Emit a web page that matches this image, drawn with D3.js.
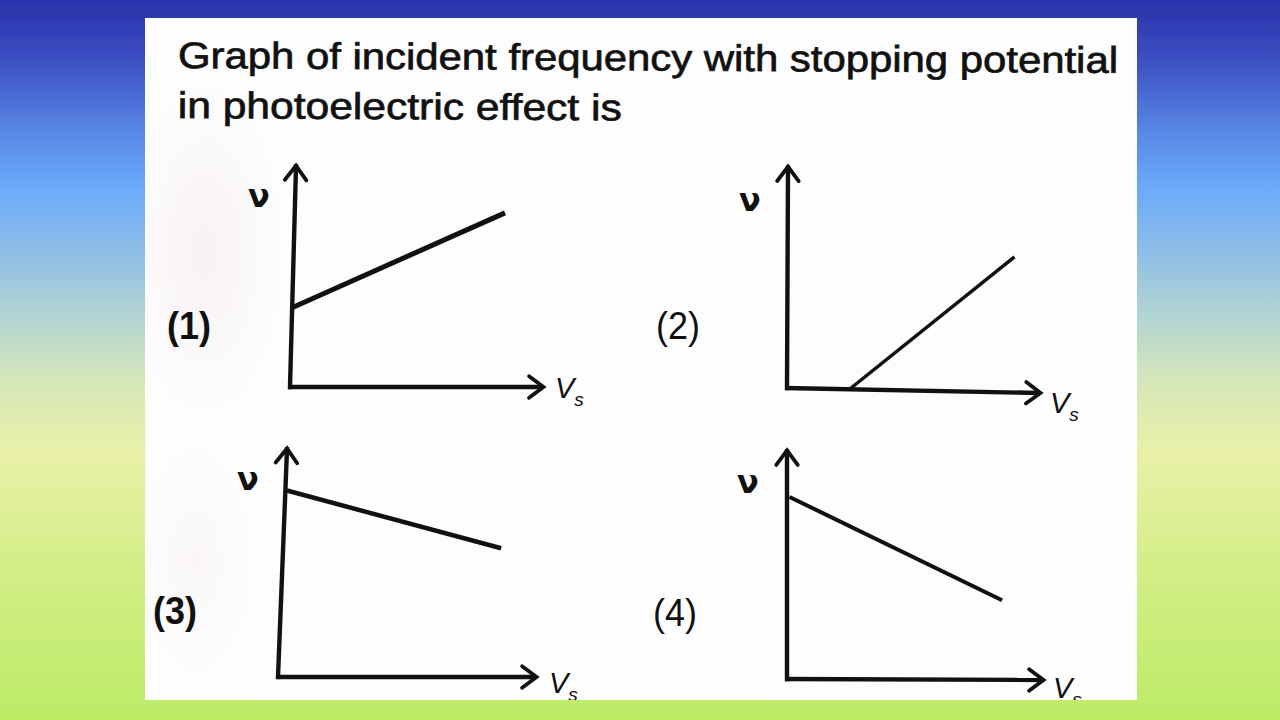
<!DOCTYPE html>
<html>
<head>
<meta charset="utf-8">
<script src="https://cdn.jsdelivr.net/npm/d3@7"></script>
<style>
html,body{margin:0;padding:0;width:1280px;height:720px;overflow:hidden;}
svg{display:block;}
</style>
</head>
<body>
<svg id="chart" width="1280" height="720"></svg>
<script>
// ---- data ----
const titleLines = ["Graph of incident frequency with stopping potential", "in photoelectric effect is"];
const optionLabels = ["(1)", "(2)", "(3)", "(4)"];
const yAxisLabel = "ν";
const xAxisLabel = "V";
const xAxisSub = "s";
// line endpoints per option, in axis units (0..10)
const lineStartX = [0.1, 2.5, 0.35, 0.1];
const lineStartY = [3.7, 0.0, 8.4, 8.2];
const lineEndX   = [8.6, 9.1, 8.75, 8.5];
const lineEndY   = [8.1, 6.1, 5.8, 3.55];

// ---- layout (positions only) ----
const panels = [
  {ox: 290, oy: 387, w: 250, h: 215, yTilt: 6, xTilt: 0, lab: [189, 339], labW: 700, nu: [259, 207], vs: [555, 398], sw: 5},
  {ox: 787, oy: 388, w: 250, h: 215, yTilt: 1, xTilt: 5, lab: [678, 339], labW: 400, nu: [750, 211], vs: [1050, 413], sw: 3.5},
  {ox: 278, oy: 677, w: 255, h: 222, yTilt: 9, xTilt: 0, lab: [175, 624], labW: 700, nu: [248, 490], vs: [549, 693], sw: 4.5},
  {ox: 787, oy: 679, w: 253, h: 222, yTilt: 0, xTilt: 1, lab: [675, 626], labW: 400, nu: [748, 493], vs: [1053, 698], sw: 4}
];

const svg = d3.select("#chart");
const defs = svg.append("defs");

const bg = defs.append("linearGradient").attr("id", "bg").attr("x1", 0).attr("y1", 0).attr("x2", 0).attr("y2", 1);
[[0, "#2a32aa"], [0.08, "#3b4ec2"], [0.18, "#5786e4"], [0.26, "#6aaaf9"], [0.35, "#8ebde6"], [0.44, "#b2d5d2"], [0.53, "#d6e6b8"], [0.63, "#e9f1a8"], [0.78, "#d4ee88"], [1, "#bcec66"]]
  .forEach(s => bg.append("stop").attr("offset", s[0]).attr("stop-color", s[1]));

const smudge = defs.append("radialGradient").attr("id", "smudge").attr("cx", 0.5).attr("cy", 0.5).attr("r", 0.5);
smudge.append("stop").attr("offset", 0).attr("stop-color", "#f3e6ea").attr("stop-opacity", 0.5);
smudge.append("stop").attr("offset", 1).attr("stop-color", "#f3e6ea").attr("stop-opacity", 0);

defs.append("clipPath").attr("id", "cardClip").append("rect")
  .attr("x", 145).attr("y", 18).attr("width", 992).attr("height", 682);

svg.append("rect").attr("width", 1280).attr("height", 720).attr("fill", "url(#bg)");
svg.append("rect").attr("x", 145).attr("y", 18).attr("width", 992).attr("height", 682).attr("fill", "#fdfdfd");

const card = svg.append("g").attr("clip-path", "url(#cardClip)");
card.append("ellipse").attr("cx", 205).attr("cy", 250).attr("rx", 80).attr("ry", 170).attr("fill", "url(#smudge)");
card.append("ellipse").attr("cx", 195).attr("cy", 560).attr("rx", 60).attr("ry", 120).attr("fill", "url(#smudge)").attr("opacity", 0.6);

// ---- title ----
const titleG = card.append("g").attr("transform", "rotate(0.3 178 68)");
titleG.append("text").attr("x", 178).attr("y", 68)
  .attr("font-family", "Liberation Sans, Arial, sans-serif").attr("font-size", 37)
  .attr("textLength", 940).attr("lengthAdjust", "spacingAndGlyphs")
  .attr("fill", "#111").attr("stroke", "#111").attr("stroke-width", 0.7).text(titleLines[0]);
titleG.append("text").attr("x", 178).attr("y", 118)
  .attr("font-family", "Liberation Sans, Arial, sans-serif").attr("font-size", 37)
  .attr("textLength", 444).attr("lengthAdjust", "spacingAndGlyphs")
  .attr("fill", "#111").attr("stroke", "#111").attr("stroke-width", 0.7).text(titleLines[1]);

// ---- panels ----
function arrowHead(g, tipX, tipY, angle) {
  const L = 18, spread = 0.64;
  const a1 = angle + Math.PI - spread, a2 = angle + Math.PI + spread;
  g.append("path")
    .attr("d", `M${tipX + L * Math.cos(a1)},${tipY + L * Math.sin(a1)} L${tipX},${tipY} L${tipX + L * Math.cos(a2)},${tipY + L * Math.sin(a2)}`)
    .attr("fill", "none").attr("stroke", "#111").attr("stroke-width", 3.8)
    .attr("stroke-linecap", "round").attr("stroke-linejoin", "miter");
}

panels.forEach((p, i) => {
  const g = card.append("g");
  const x = d3.scaleLinear().domain([0, 10]).range([p.ox, p.ox + p.w]);
  const y = d3.scaleLinear().domain([0, 10]).range([p.oy, p.oy - p.h]);

  // y axis (slightly tilted like the scan)
  const yTop = y(10.25), yTopX = x(0) + p.yTilt;
  g.append("line").attr("x1", x(0)).attr("y1", y(0)).attr("x2", yTopX).attr("y2", yTop)
    .attr("stroke", "#111").attr("stroke-width", 4.4).attr("stroke-linecap", "square");
  arrowHead(g, yTopX, yTop - 1, Math.atan2(yTop - y(0), yTopX - x(0)));

  // x axis
  const xEnd = x(10.1), xEndY = y(0) + p.xTilt;
  g.append("line").attr("x1", x(0) - 2).attr("y1", y(0)).attr("x2", xEnd).attr("y2", xEndY)
    .attr("stroke", "#111").attr("stroke-width", 4.4).attr("stroke-linecap", "butt");
  arrowHead(g, xEnd + 1, xEndY, Math.atan2(xEndY - y(0), xEnd - x(0)));

  // data line
  g.append("line")
    .attr("x1", x(lineStartX[i])).attr("y1", y(lineStartY[i]) + (lineStartY[i] === 0 ? p.xTilt * 0.25 : 0))
    .attr("x2", x(lineEndX[i])).attr("y2", y(lineEndY[i]))
    .attr("stroke", "#111").attr("stroke-width", p.sw).attr("stroke-linecap", "butt");

  // labels
  g.append("text").attr("x", p.lab[0]).attr("y", p.lab[1]).attr("text-anchor", "middle")
    .attr("font-family", "Liberation Sans, Arial, sans-serif").attr("font-size", 39)
    .attr("textLength", 44).attr("lengthAdjust", "spacingAndGlyphs")
    .attr("font-weight", p.labW).attr("fill", "#111").text(optionLabels[i]);

  g.append("text").attr("x", p.nu[0]).attr("y", p.nu[1]).attr("text-anchor", "middle")
    .attr("font-family", "DejaVu Sans, sans-serif").attr("font-size", 32).attr("font-weight", 700)
    .attr("fill", "#111").text(yAxisLabel);

  const vs = g.append("text").attr("x", p.vs[0]).attr("y", p.vs[1])
    .attr("font-family", "Liberation Sans, Arial, sans-serif").attr("font-size", 29)
    .attr("font-style", "italic").attr("fill", "#111");
  vs.append("tspan").text(xAxisLabel);
  vs.append("tspan").attr("dy", 8).attr("font-size", 19).text(xAxisSub);
});
</script>
</body>
</html>
